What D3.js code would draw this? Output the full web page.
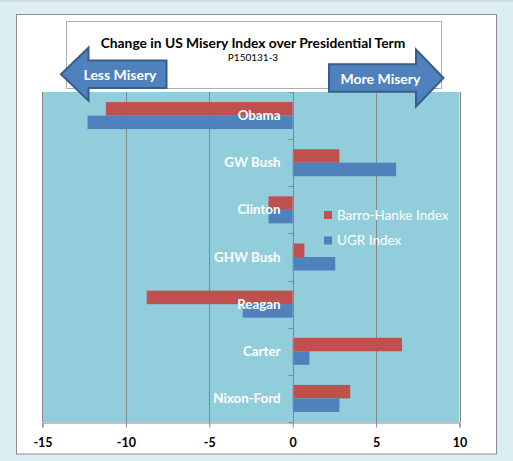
<!DOCTYPE html>
<html><head><meta charset="utf-8">
<script src="https://cdn.jsdelivr.net/npm/d3@7"></script>
<style>
html,body{margin:0;padding:0;background:#dbeef4;}
svg{display:block;}
text{font-family:Lato, "Open Sans", sans-serif;}
</style></head>
<body>
<svg id="c" width="513" height="461"></svg>
<script>
const categories = ["Obama","GW Bush","Clinton","GHW Bush","Reagan","Carter","Nixon-Ford"];
const barroHanke = [-11.2, 2.8, -1.45, 0.7, -8.75, 6.55, 3.45];
const ugr = [-12.3, 6.2, -1.45, 2.55, -3.0, 1.0, 2.8];
const xTicks = [-15, -10, -5, 0, 5, 10];
const seriesNames = ["Barro-Hanke Index", "UGR Index"];
const colors = ["#c0504d", "#4f81bd"];
const title = "Change in US Misery Index over Presidential Term";
const subtitle = "P150131-3";

const svg = d3.select("#c");
const W = 513, H = 461;
svg.append("rect").attr("x",0).attr("y",0).attr("width",W).attr("height",H).attr("fill","#dbeef4");
svg.append("rect").attr("x",0).attr("y",0).attr("width",W).attr("height",2).attr("fill","#cfdde2");
// chart area
svg.append("rect").attr("x",16.5).attr("y",14.5).attr("width",480).attr("height",439.5)
  .attr("fill","#fff").attr("stroke","#8c8c8c").attr("stroke-width",1);

// title box
svg.append("rect").attr("x",66.5).attr("y",21.5).attr("width",375).attr("height",67)
  .attr("fill","#fff").attr("stroke","#b0b0b0").attr("stroke-width",1);
svg.append("text").attr("x",253).attr("y",47.5).attr("text-anchor","middle")
  .attr("font-size",13.8).attr("font-weight",700).attr("fill","#000").text(title);
svg.append("text").attr("x",253).attr("y",61).attr("text-anchor","middle")
  .attr("font-size",10).attr("fill","#000").text(subtitle);

const L = 42.5, R = 459.5, T = 92, B = 422;
const x = d3.scaleLinear().domain([-15,10]).range([L,R]);
const y = d3.scaleBand().domain(categories).range([T,B]);

const plot = svg.append("g");
plot.append("rect").attr("x",L).attr("y",T).attr("width",R-L).attr("height",B-T).attr("fill","#92cddc");

// gridlines
plot.selectAll("line.grid").data(xTicks.filter(d=>d!==0 && d!==-15)).enter().append("line")
  .attr("x1",d=>Math.round(x(d))+0.5).attr("x2",d=>Math.round(x(d))+0.5)
  .attr("y1",T).attr("y2",B).attr("stroke","#868686").attr("stroke-width",1);
// left border
plot.append("line").attr("x1",L).attr("x2",L).attr("y1",T).attr("y2",B).attr("stroke","#868686");

// bars
const bh = 13.5;
categories.forEach((c,i)=>{
  const cy = y(c) + y.bandwidth()/2;
  [barroHanke[i], ugr[i]].forEach((v,j)=>{
    plot.append("rect")
      .attr("x", x(Math.min(0,v)))
      .attr("width", Math.abs(x(v)-x(0)))
      .attr("y", j===0 ? cy-bh : cy)
      .attr("height", bh)
      .attr("fill", colors[j]);
  });
});

// zero axis with ticks
const zx = Math.round(x(0))+0.5;
plot.append("line").attr("x1",zx).attr("x2",zx).attr("y1",T).attr("y2",B).attr("stroke","#868686");
const bounds = categories.map(c=>y(c)).concat([B]);
plot.selectAll("line.ytick").data(bounds).enter().append("line")
  .attr("x1",zx-5).attr("x2",zx).attr("y1",d=>Math.round(d)+0.5).attr("y2",d=>Math.round(d)+0.5)
  .attr("stroke","#868686");

// category labels
plot.selectAll("text.cat").data(categories).enter().append("text")
  .attr("x", zx-13).attr("y", d=>y(d)+y.bandwidth()/2+4.5)
  .attr("text-anchor","end").attr("font-size",13.3).attr("font-weight",700)
  .attr("fill","#fff").text(d=>d);

// x axis
const xAxis = d3.axisBottom(x).tickValues(xTicks).tickSize(5).tickFormat(d3.format("d"));
const ax = svg.append("g").attr("transform",`translate(0,${B+0.5})`).call(xAxis);
ax.select(".domain").attr("stroke","#868686");
ax.selectAll(".tick line").attr("stroke","#868686");
ax.selectAll(".tick text").attr("font-size",12.5).attr("font-weight",700).attr("fill","#000")
  .attr("font-family","Lato, sans-serif").attr("dy","1.3em").text(d=>d<0?"-"+Math.abs(d):d);

// legend
const lg = svg.append("g");
seriesNames.forEach((n,i)=>{
  const ly = 211 + i*25.5;
  lg.append("rect").attr("x",324).attr("y",ly).attr("width",8).attr("height",8).attr("fill",colors[i]);
  lg.append("text").attr("x",337).attr("y",ly+8.5).attr("font-size",13.5).attr("fill","#fff").text(n);
});

// arrows
const arrowFill = "#4f81bd", arrowStroke = "#385d8a";
function arrowLeft(tip, cy, headBase, bodyEnd, headHalf, bodyHalf){
  return `M${tip},${cy} L${headBase},${cy-headHalf} L${headBase},${cy-bodyHalf} L${bodyEnd},${cy-bodyHalf} L${bodyEnd},${cy+bodyHalf} L${headBase},${cy+bodyHalf} L${headBase},${cy+headHalf} Z`;
}
svg.append("path").attr("d", arrowLeft(61, 74.2, 88.5, 166.5, 26.5, 13.8))
  .attr("fill",arrowFill).attr("stroke",arrowStroke).attr("stroke-width",2);
svg.append("text").attr("x",120).attr("y",79.5).attr("text-anchor","middle")
  .attr("font-size",14).attr("font-weight",700).attr("fill","#fff").text("Less Misery");
svg.append("path").attr("d", arrowLeft(443.5, 78, 416, 329, 28.5, 13.8))
  .attr("fill",arrowFill).attr("stroke",arrowStroke).attr("stroke-width",2);
svg.append("text").attr("x",380.5).attr("y",83.5).attr("text-anchor","middle")
  .attr("font-size",14).attr("font-weight",700).attr("fill","#fff").text("More Misery");
</script>
</body></html>
